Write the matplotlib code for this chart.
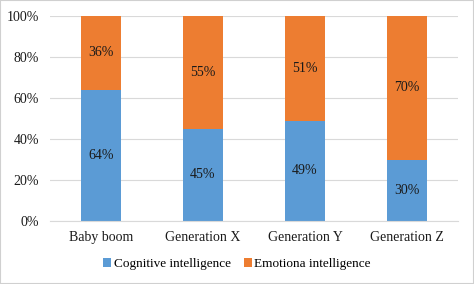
import matplotlib as mpl
mpl.use('Agg')
import matplotlib.pyplot as plt
import numpy as np

categories = ['Baby boom', 'Generation X', 'Generation Y', 'Generation Z']
cognitive = [64, 45, 49, 30]
emotional = [36, 55, 51, 70]
series_names = ['Cognitive intelligence', 'Emotiona intelligence']

blue = '#5B9BD5'
orange = '#ED7D31'

plt.rcParams['font.family'] = ['Liberation Serif', 'DejaVu Serif']

fig = plt.figure(figsize=(4.74, 2.84), dpi=100)
ax = fig.add_axes([50/474, 63/284, 408/474, 205/284])

x = np.arange(len(categories))
w = 0.39
b1 = ax.bar(x, cognitive, w, color=blue, label=series_names[0], zorder=2)
b2 = ax.bar(x, emotional, w, bottom=cognitive, color=orange, label=series_names[1], zorder=2)

for i in range(len(categories)):
    ax.text(x[i], cognitive[i] / 2, f'{cognitive[i]}%', ha='center', va='center', fontsize=10, color='#1a1a1a')
    ax.text(x[i], cognitive[i] + emotional[i] / 2, f'{emotional[i]}%', ha='center', va='center', fontsize=10, color='#1a1a1a')

ax.set_xlim(-0.5, len(categories) - 0.5)
ax.set_ylim(0, 100)
ax.set_yticks(np.arange(0, 101, 20))
ax.set_yticklabels([f'{v}%' for v in range(0, 101, 20)])
ax.set_xticks(x)
ax.set_xticklabels(categories)
ax.tick_params(axis='both', length=0, labelsize=10, colors='#1a1a1a')
ax.tick_params(axis='y', pad=8)
ax.tick_params(axis='x', pad=7)
ax.yaxis.grid(True, color='#d9d9d9', linewidth=0.8, zorder=0)
ax.set_axisbelow(True)
for s in ['top', 'right', 'left']:
    ax.spines[s].set_visible(False)
ax.spines['bottom'].set_color('#d9d9d9')

fig.legend(handles=[b1, b2], loc='center', bbox_to_anchor=(0.5, 20/284), ncol=2,
           frameon=False, fontsize=9.5, handlelength=0.6, handleheight=0.6,
           handletextpad=0.2, columnspacing=1.0)

fig.patches.append(plt.Rectangle((0, 0), 1, 1, transform=fig.transFigure, fill=False,
                                 edgecolor='#d0d0d0', linewidth=1.5))

plt.savefig('out.png', dpi=100)
